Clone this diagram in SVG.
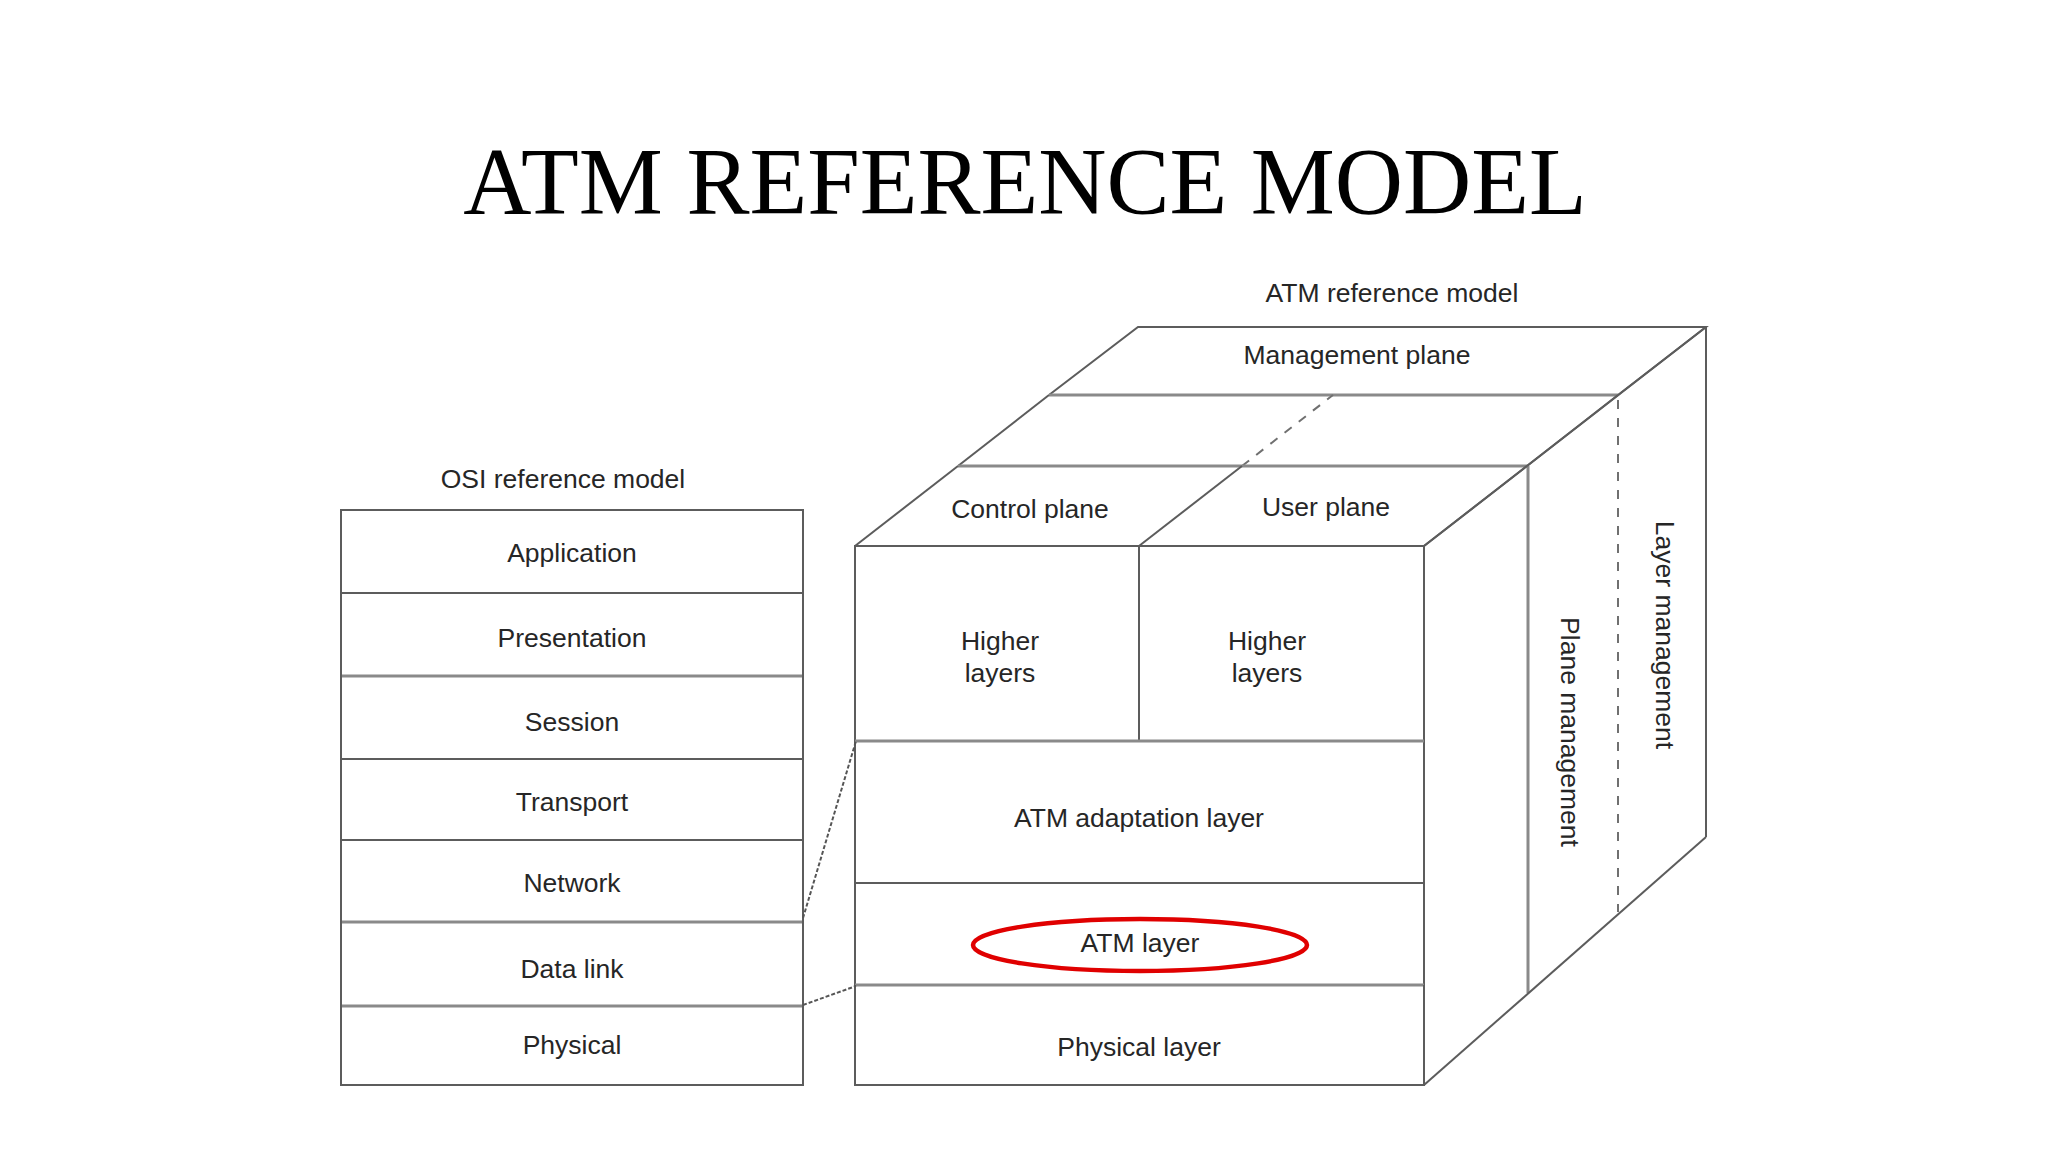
<svg xmlns="http://www.w3.org/2000/svg" width="2048" height="1152" viewBox="0 0 2048 1152">
<style>
.title{font-family:"Liberation Serif","Times New Roman",serif;font-size:94.5px;fill:#000;text-anchor:middle}
.t{font-family:"Liberation Sans",Arial,sans-serif;font-size:26.5px;fill:#262626;text-anchor:middle}
.ln{stroke:#5c5c5c;stroke-width:2;fill:none}
.lt{stroke:#8a8a8a;stroke-width:3;fill:none}
.dash{stroke:#707070;stroke-width:2;fill:none;stroke-dasharray:9 9}
.conn{stroke:#555;stroke-width:2;fill:none;stroke-dasharray:4 2}
.hl{stroke:#e00000;stroke-width:4.5;fill:none}
</style>
<rect width="2048" height="1152" fill="#fff"/>
<text id="title" class="title" x="1025" y="214">ATM REFERENCE MODEL</text>

<g id="osi-model">
  <text class="t" x="563" y="488">OSI reference model</text>
  <g id="osi-application"><line class="ln" x1="341" y1="510" x2="803" y2="510"/><text class="t" x="572" y="562">Application</text></g>
  <g id="osi-presentation"><line class="ln" x1="341" y1="593" x2="803" y2="593"/><text class="t" x="572" y="647">Presentation</text></g>
  <g id="osi-session"><line class="lt" x1="341" y1="676" x2="803" y2="676"/><text class="t" x="572" y="731">Session</text></g>
  <g id="osi-transport"><line class="ln" x1="341" y1="759" x2="803" y2="759"/><text class="t" x="572" y="811">Transport</text></g>
  <g id="osi-network"><line class="ln" x1="341" y1="840" x2="803" y2="840"/><text class="t" x="572" y="892">Network</text></g>
  <g id="osi-datalink"><line class="lt" x1="341" y1="922" x2="803" y2="922"/><text class="t" x="572" y="978">Data link</text></g>
  <g id="osi-physical"><line class="lt" x1="341" y1="1006" x2="803" y2="1006"/><text class="t" x="572" y="1054">Physical</text></g>
  <rect class="ln" x="341" y="510" width="462" height="575"/>
</g>

<g id="atm-model">
  <text class="t" x="1392" y="302">ATM reference model</text>

  <g id="management-plane">
    <polyline class="ln" points="1049,395 1138,327 1706,327 1618,395"/>
    <line class="lt" x1="1049" y1="395" x2="1618" y2="395"/>
    <text class="t" x="1357" y="364">Management plane</text>
  </g>

  <g id="middle-strip">
    <line class="ln" x1="958" y1="466" x2="1049" y2="395"/>
    <line class="ln" x1="1527" y1="466" x2="1618" y2="395"/>
    <line class="dash" x1="1242" y1="466" x2="1333" y2="395"/>
    <line class="lt" x1="958" y1="466" x2="1527" y2="466"/>
  </g>

  <g id="control-plane">
    <line class="ln" x1="855" y1="546" x2="958" y2="466"/>
    <line class="ln" x1="1139" y1="546" x2="1242" y2="466"/>
    <text class="t" x="1030" y="518">Control plane</text>
  </g>

  <g id="user-plane">
    <line class="ln" x1="1424" y1="546" x2="1527" y2="466"/>
    <text class="t" x="1326" y="516">User plane</text>
  </g>

  <g id="higher-layers-control">
    <rect class="ln" x="855" y="546" width="284" height="195"/>
    <text class="t" x="1000" y="650">Higher</text>
    <text class="t" x="1000" y="682">layers</text>
  </g>

  <g id="higher-layers-user">
    <rect class="ln" x="1139" y="546" width="285" height="195"/>
    <text class="t" x="1267" y="650">Higher</text>
    <text class="t" x="1267" y="682">layers</text>
  </g>

  <g id="atm-adaptation-layer">
    <line class="ln" x1="855" y1="741" x2="855" y2="883"/>
    <line class="ln" x1="1424" y1="741" x2="1424" y2="883"/>
    <line class="lt" x1="855" y1="741" x2="1424" y2="741"/>
    <text class="t" x="1139" y="827">ATM adaptation layer</text>
  </g>

  <g id="atm-layer">
    <line class="ln" x1="855" y1="883" x2="1424" y2="883"/>
    <line class="ln" x1="855" y1="883" x2="855" y2="985"/>
    <line class="ln" x1="1424" y1="883" x2="1424" y2="985"/>
    <text class="t" x="1140" y="952">ATM layer</text>
    <ellipse class="hl" cx="1140" cy="945" rx="167" ry="26"/>
  </g>

  <g id="physical-layer">
    <line class="lt" x1="855" y1="985" x2="1424" y2="985"/>
    <polyline class="ln" points="855,985 855,1085 1424,1085 1424,985"/>
    <text class="t" x="1139" y="1056">Physical layer</text>
  </g>

  <g id="plane-management">
    <line class="lt" x1="1528" y1="466" x2="1528" y2="993"/>
    <line class="ln" x1="1424" y1="1085" x2="1706" y2="837"/>
    <text class="t" transform="translate(1561,732) rotate(90)">Plane management</text>
  </g>

  <g id="layer-management">
    <line class="dash" x1="1618" y1="400" x2="1618" y2="912"/>
    <line class="ln" x1="1706" y1="327" x2="1706" y2="837"/>
    <line class="ln" x1="1424" y1="546" x2="1706" y2="327"/>
    <text class="t" transform="translate(1656,635) rotate(90)">Layer management</text>
  </g>
</g>

<g id="connectors">
  <line class="conn" x1="803" y1="918" x2="856" y2="741"/>
  <line class="conn" x1="803" y1="1005" x2="856" y2="986"/>
</g>
</svg>
